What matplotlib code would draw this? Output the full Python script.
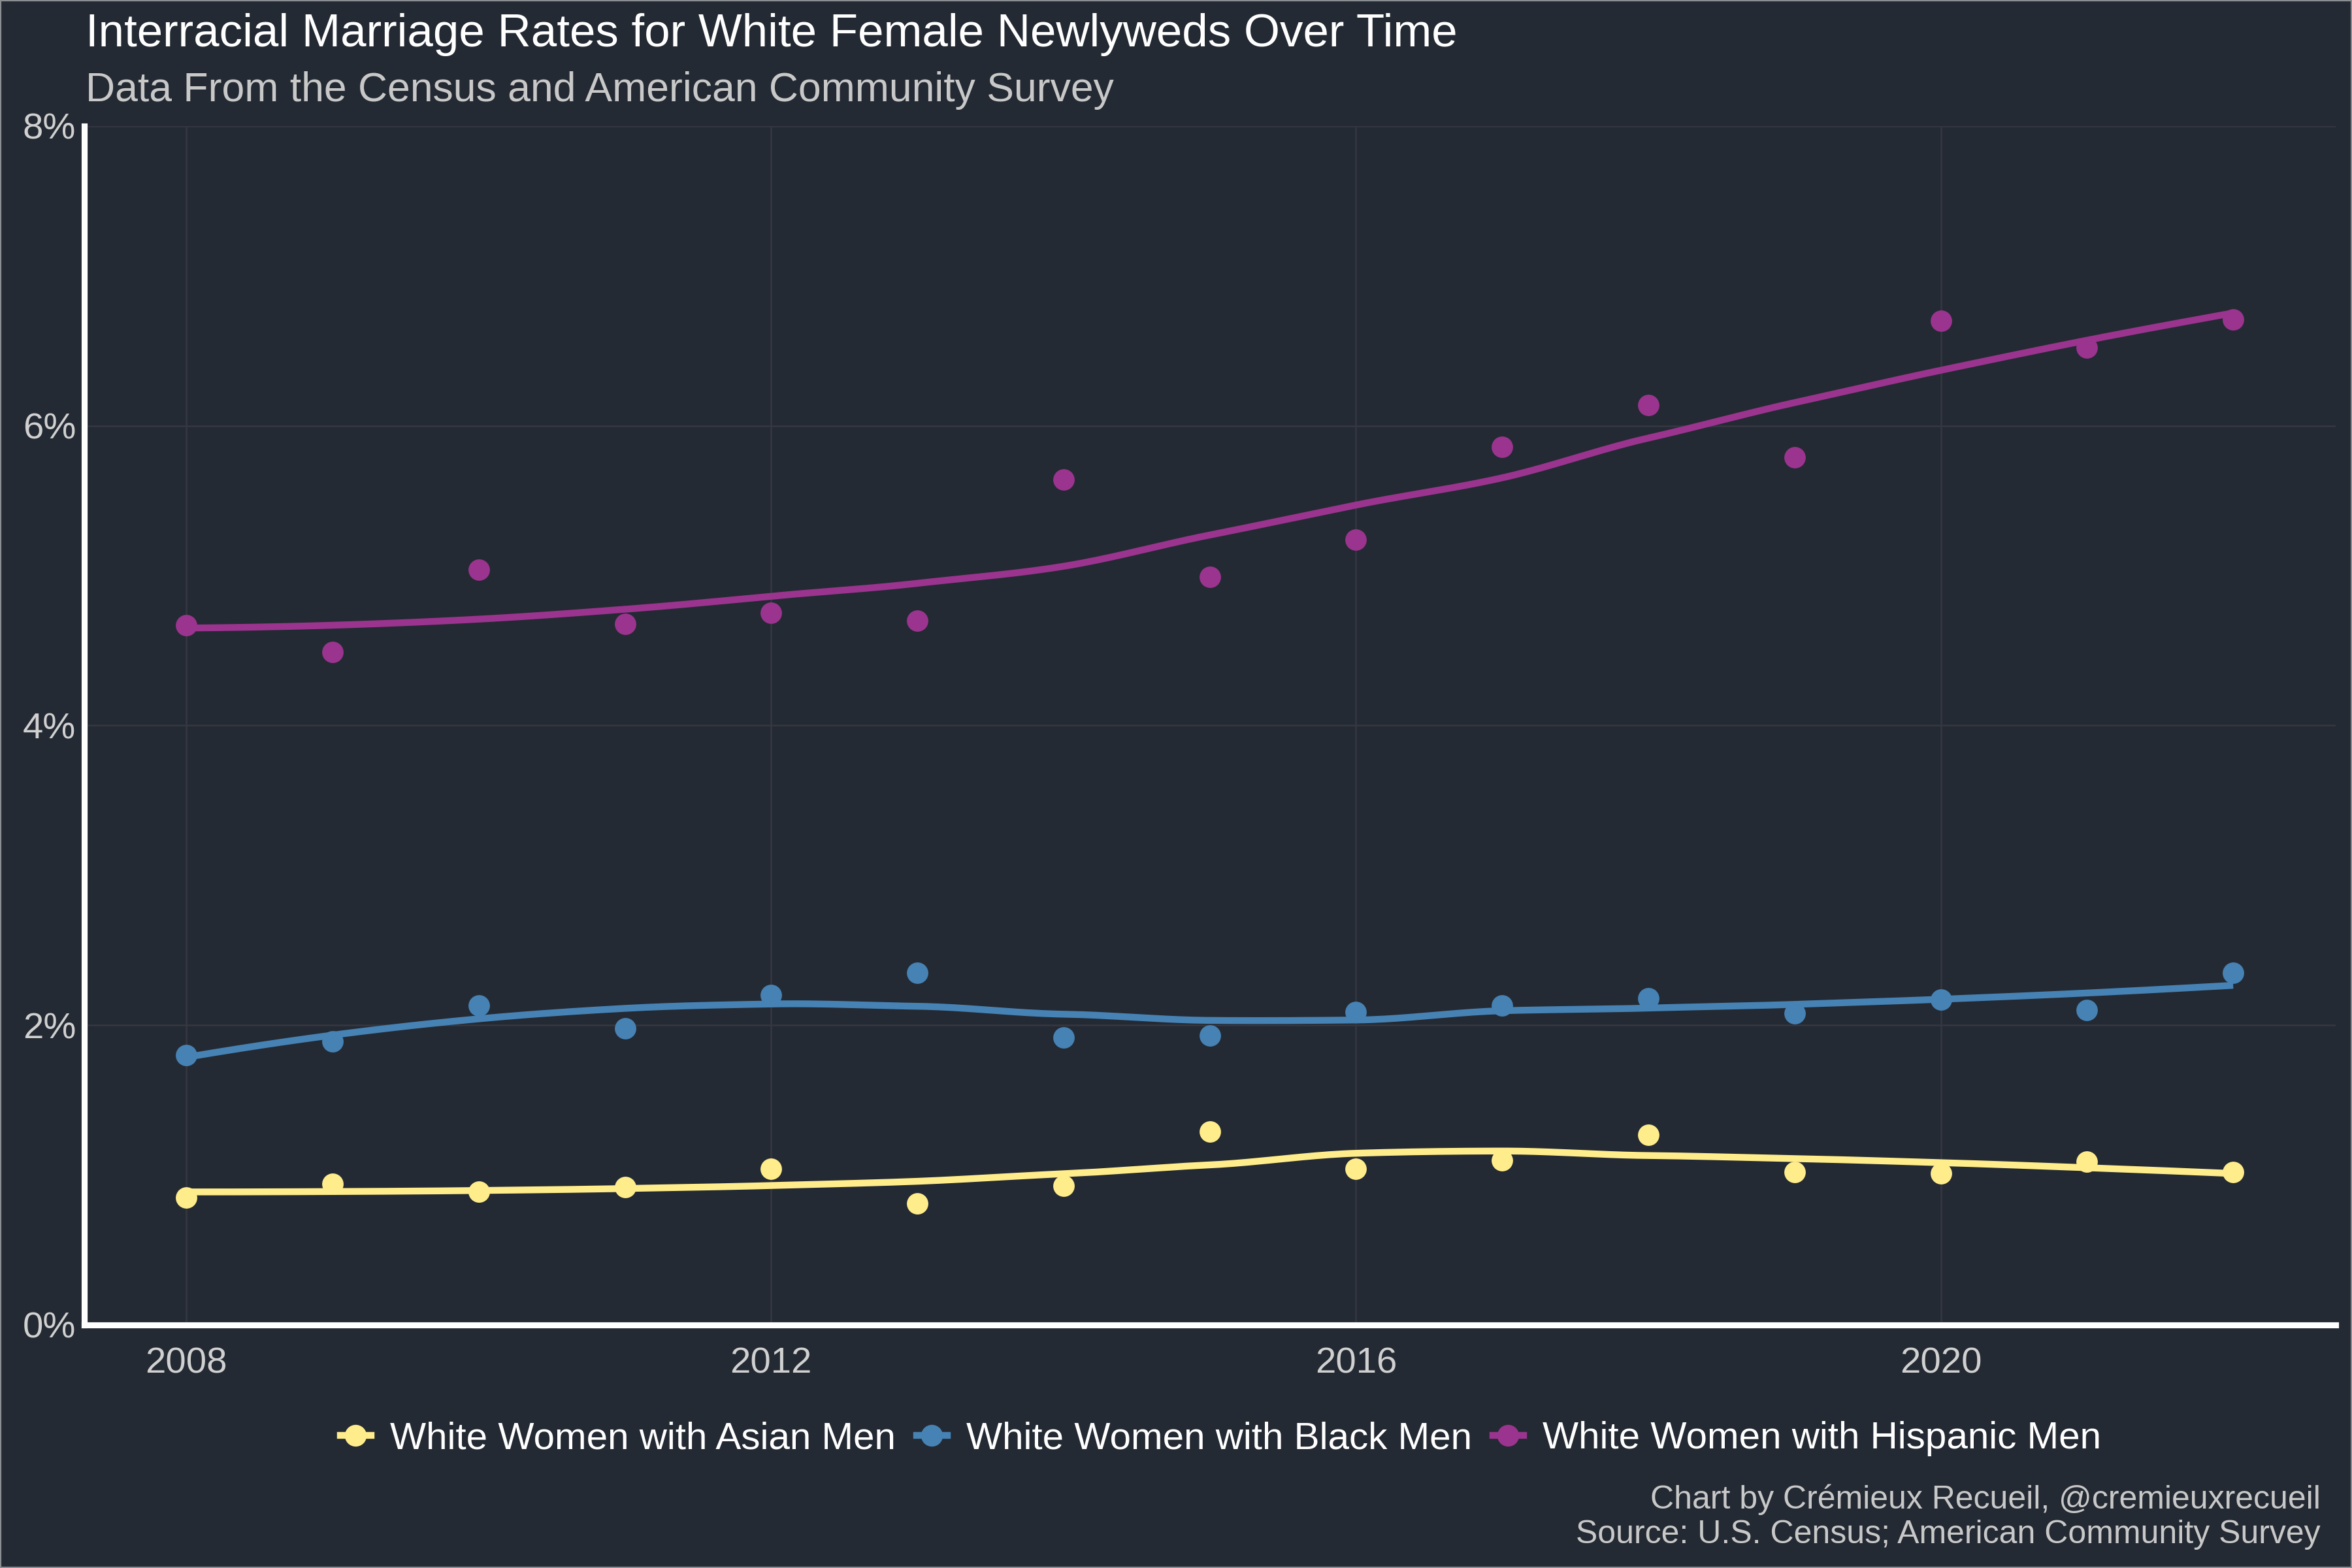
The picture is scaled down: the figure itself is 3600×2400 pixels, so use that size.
import numpy as np
import matplotlib
matplotlib.use("Agg")
import matplotlib.pyplot as plt
from matplotlib.lines import Line2D
from matplotlib.patches import Rectangle
from matplotlib.ticker import FuncFormatter

# ---------------- data ----------------
years = [2008, 2009, 2010, 2011, 2012, 2013, 2014, 2015,
         2016, 2017, 2018, 2019, 2020, 2021, 2022]
asian = [0.85, 0.94, 0.89, 0.92, 1.04, 0.81, 0.93, 1.29,
         1.04, 1.10, 1.27, 1.02, 1.01, 1.09, 1.02]
black = [1.80, 1.89, 2.13, 1.98, 2.20, 2.35, 1.92, 1.93,
         2.09, 2.13, 2.18, 2.08, 2.17, 2.10, 2.35]
hispanic = [4.67, 4.49, 5.04, 4.68, 4.75, 4.70, 5.64, 4.99,
            5.24, 5.86, 6.14, 5.79, 6.70, 6.52, 6.71]
series_labels = ["White Women with Asian Men", "White Women with Black Men",
                 "White Women with Hispanic Men"]
x_ticks = [2008, 2012, 2016, 2020]
y_ticks = [0, 2, 4, 6, 8]

title = "Interracial Marriage Rates for White Female Newlyweds Over Time"
subtitle = "Data From the Census and American Community Survey"
caption = "Chart by Crémieux Recueil, @cremieuxrecueil\nSource: U.S. Census; American Community Survey"

# ---------------- style ----------------
BG = "#242A33"
GRID = "#353741"
colors = ["#FFEC8B", "#4682B4", "#9A348E"]
FONT = ["Liberation Sans", "DejaVu Sans"]
plt.rcParams["font.family"] = FONT


def loess_fit(x, y, x0, span=0.75):
    """Local quadratic fit (tricube weights); returns value and slope at x0."""
    x = np.asarray(x, float)
    y = np.asarray(y, float)
    n = len(x)
    q = int(np.floor(n * span))
    d = np.abs(x - x0)
    h = np.sort(d)[q - 1]
    u = np.clip(d / h, 0, 1)
    w = (1 - u ** 3) ** 3
    X = np.vstack([np.ones(n), x - x0, (x - x0) ** 2]).T
    W = np.diag(w)
    beta = np.linalg.pinv(X.T @ W @ X) @ (X.T @ W @ y)
    return beta[0], beta[1]


def loess_curve(x, y, xout):
    """Evaluate at vertices (data x) then cubic-Hermite interpolate, like R's loess."""
    verts = np.unique(np.asarray(x, float))
    fv = np.array([loess_fit(x, y, v) for v in verts])
    vals, slopes = fv[:, 0], fv[:, 1]
    out = []
    for xo in xout:
        i = min(np.searchsorted(verts, xo, side="right") - 1, len(verts) - 2)
        i = max(i, 0)
        x0, x1 = verts[i], verts[i + 1]
        hh = x1 - x0
        t = (xo - x0) / hh
        h00 = 2 * t ** 3 - 3 * t ** 2 + 1
        h10 = t ** 3 - 2 * t ** 2 + t
        h01 = -2 * t ** 3 + 3 * t ** 2
        h11 = t ** 3 - t ** 2
        out.append(h00 * vals[i] + h10 * hh * slopes[i] + h01 * vals[i + 1] + h11 * hh * slopes[i + 1])
    return np.array(out)


fig = plt.figure(figsize=(12, 8), dpi=300, facecolor=BG)
ax = fig.add_axes([0.0357, 0.155, 0.9573, 0.7646], facecolor=BG)

xs = np.linspace(min(years), max(years), 300)
for vals, col, lab in zip([asian, black, hispanic], colors, series_labels):
    ax.plot(xs, loess_curve(years, vals, xs), color=col, lw=2.5, zorder=3,
            solid_capstyle="butt")
    ax.scatter(years, vals, s=62, color=col, zorder=4, linewidths=0)

ax.set_xlim(2007.3, 2022.7)
ax.set_ylim(0, 8)
ax.set_xticks(x_ticks)
ax.set_yticks(y_ticks)
ax.yaxis.set_major_formatter(FuncFormatter(lambda v, p: f"{v:.0f}%"))
ax.grid(True, color=GRID, lw=0.6, zorder=0)
ax.tick_params(axis="both", length=0, colors="#D0D0D0", labelsize=13.5)
ax.tick_params(axis="x", pad=8)
ax.tick_params(axis="y", pad=3)
for s in ["top", "right"]:
    ax.spines[s].set_visible(False)
for s in ["left", "bottom"]:
    ax.spines[s].set_color("white")
    ax.spines[s].set_linewidth(2.2)
    ax.spines[s].set_zorder(5)

fig.text(0.0364, 0.978, title, color="white", fontsize=17, va="center", ha="left")
fig.text(0.0364, 0.9425, subtitle, color="#C8C8C8", fontsize=15, va="center", ha="left")

handles = [Line2D([0], [0], color=c, lw=2.5, marker="o", markersize=8,
                  markeredgewidth=0) for c in colors]
leg = fig.legend(handles, series_labels, loc="center", bbox_to_anchor=(0.519, 0.0823),
                 ncol=3, frameon=False, fontsize=14, handlelength=0.8,
                 handletextpad=0.5, columnspacing=0.55, labelcolor="white")

fig.text(0.9866, 0.0325, caption, color="#C8C8C8", fontsize=12, ha="right",
         va="center", linespacing=1.2)

fig.patches.append(Rectangle((0, 0), 1, 1, transform=fig.transFigure, fill=False,
                             edgecolor="#8A8D92", lw=1.0, zorder=10))

fig.savefig("out.png", dpi=300, facecolor=BG)
